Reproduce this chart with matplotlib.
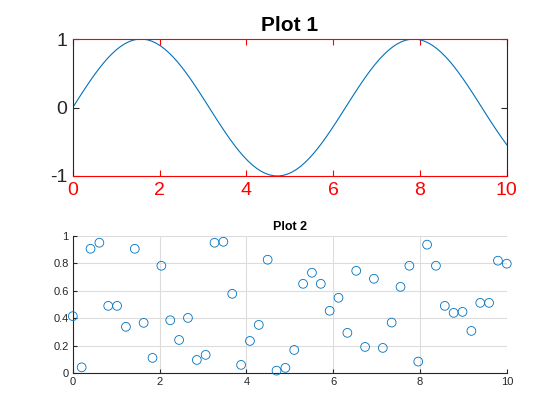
import numpy as np
import matplotlib
matplotlib.use("Agg")
import matplotlib.pyplot as plt

plt.rcParams['font.family'] = ['Liberation Sans', 'DejaVu Sans']
plt.rcParams['axes.unicode_minus'] = False

# top plot: sine curve
x_line = np.linspace(0, 10, 100)
y_line = np.sin(x_line)

# bottom plot: scattered values
x_pts = np.linspace(0, 10, 50)
y_pts = [0.415, 0.041, 0.907, 0.951, 0.490, 0.490, 0.337, 0.907, 0.366, 0.110,
         0.783, 0.385, 0.241, 0.402, 0.095, 0.132, 0.951, 0.958, 0.578, 0.059,
         0.234, 0.351, 0.827, 0.017, 0.037, 0.168, 0.651, 0.732, 0.651, 0.454,
         0.549, 0.293, 0.746, 0.190, 0.688, 0.183, 0.368, 0.629, 0.783, 0.083,
         0.937, 0.783, 0.490, 0.439, 0.446, 0.307, 0.512, 0.512, 0.820, 0.798]

blue = '#0072BD'
dark = '#262626'

fig = plt.figure(figsize=(5.6, 4.2), dpi=100)

# ---- Plot 1 ----
ax1 = fig.add_axes([0.130, 0.581, 0.775, 0.326])
ax1.plot(x_line, y_line, color=blue, linewidth=0.8)
ax1.set_xlim(0, 10)
ax1.set_ylim(-1, 1)
ax1.set_xticks([0, 2, 4, 6, 8, 10])
ax1.set_yticks([-1, 0, 1])
ax1.tick_params(axis='x', colors='red', direction='in', top=True, labelsize=14, length=4, pad=4)
ax1.tick_params(axis='y', colors=dark, direction='in', right=True, labelsize=14, length=4, pad=4)
ax1.spines['top'].set_color('red')
ax1.spines['bottom'].set_color('red')
ax1.spines['left'].set_color(dark)
ax1.spines['right'].set_color(dark)
for s in ax1.spines.values():
    s.set_linewidth(0.8)
ax1.set_title('Plot 1', fontsize=15, fontweight='bold', pad=6)

# ---- Plot 2 ----
ax2 = fig.add_axes([0.130, 0.112, 0.775, 0.326])
ax2.scatter(x_pts, y_pts, s=40, facecolors='none', edgecolors=blue, linewidths=0.6,
            zorder=3, clip_on=False)
ax2.set_xlim(0, 10)
ax2.set_ylim(0, 1)
ax2.set_xticks([0, 2, 4, 6, 8, 10])
ax2.set_yticks([0, 0.2, 0.4, 0.6, 0.8, 1])
ax2.set_yticklabels(['0', '0.2', '0.4', '0.6', '0.8', '1'])
ax2.grid(True, color='#dcdcdc', linewidth=0.8)
ax2.set_axisbelow(True)
ax2.spines['top'].set_visible(False)
ax2.spines['right'].set_visible(False)
ax2.spines['left'].set_color(dark)
ax2.spines['bottom'].set_color(dark)
ax2.tick_params(colors=dark, direction='in', labelsize=8, length=3, pad=3)
ax2.set_title('Plot 2', fontsize=9, fontweight='bold', pad=4)

fig.savefig('out.png', dpi=100)
